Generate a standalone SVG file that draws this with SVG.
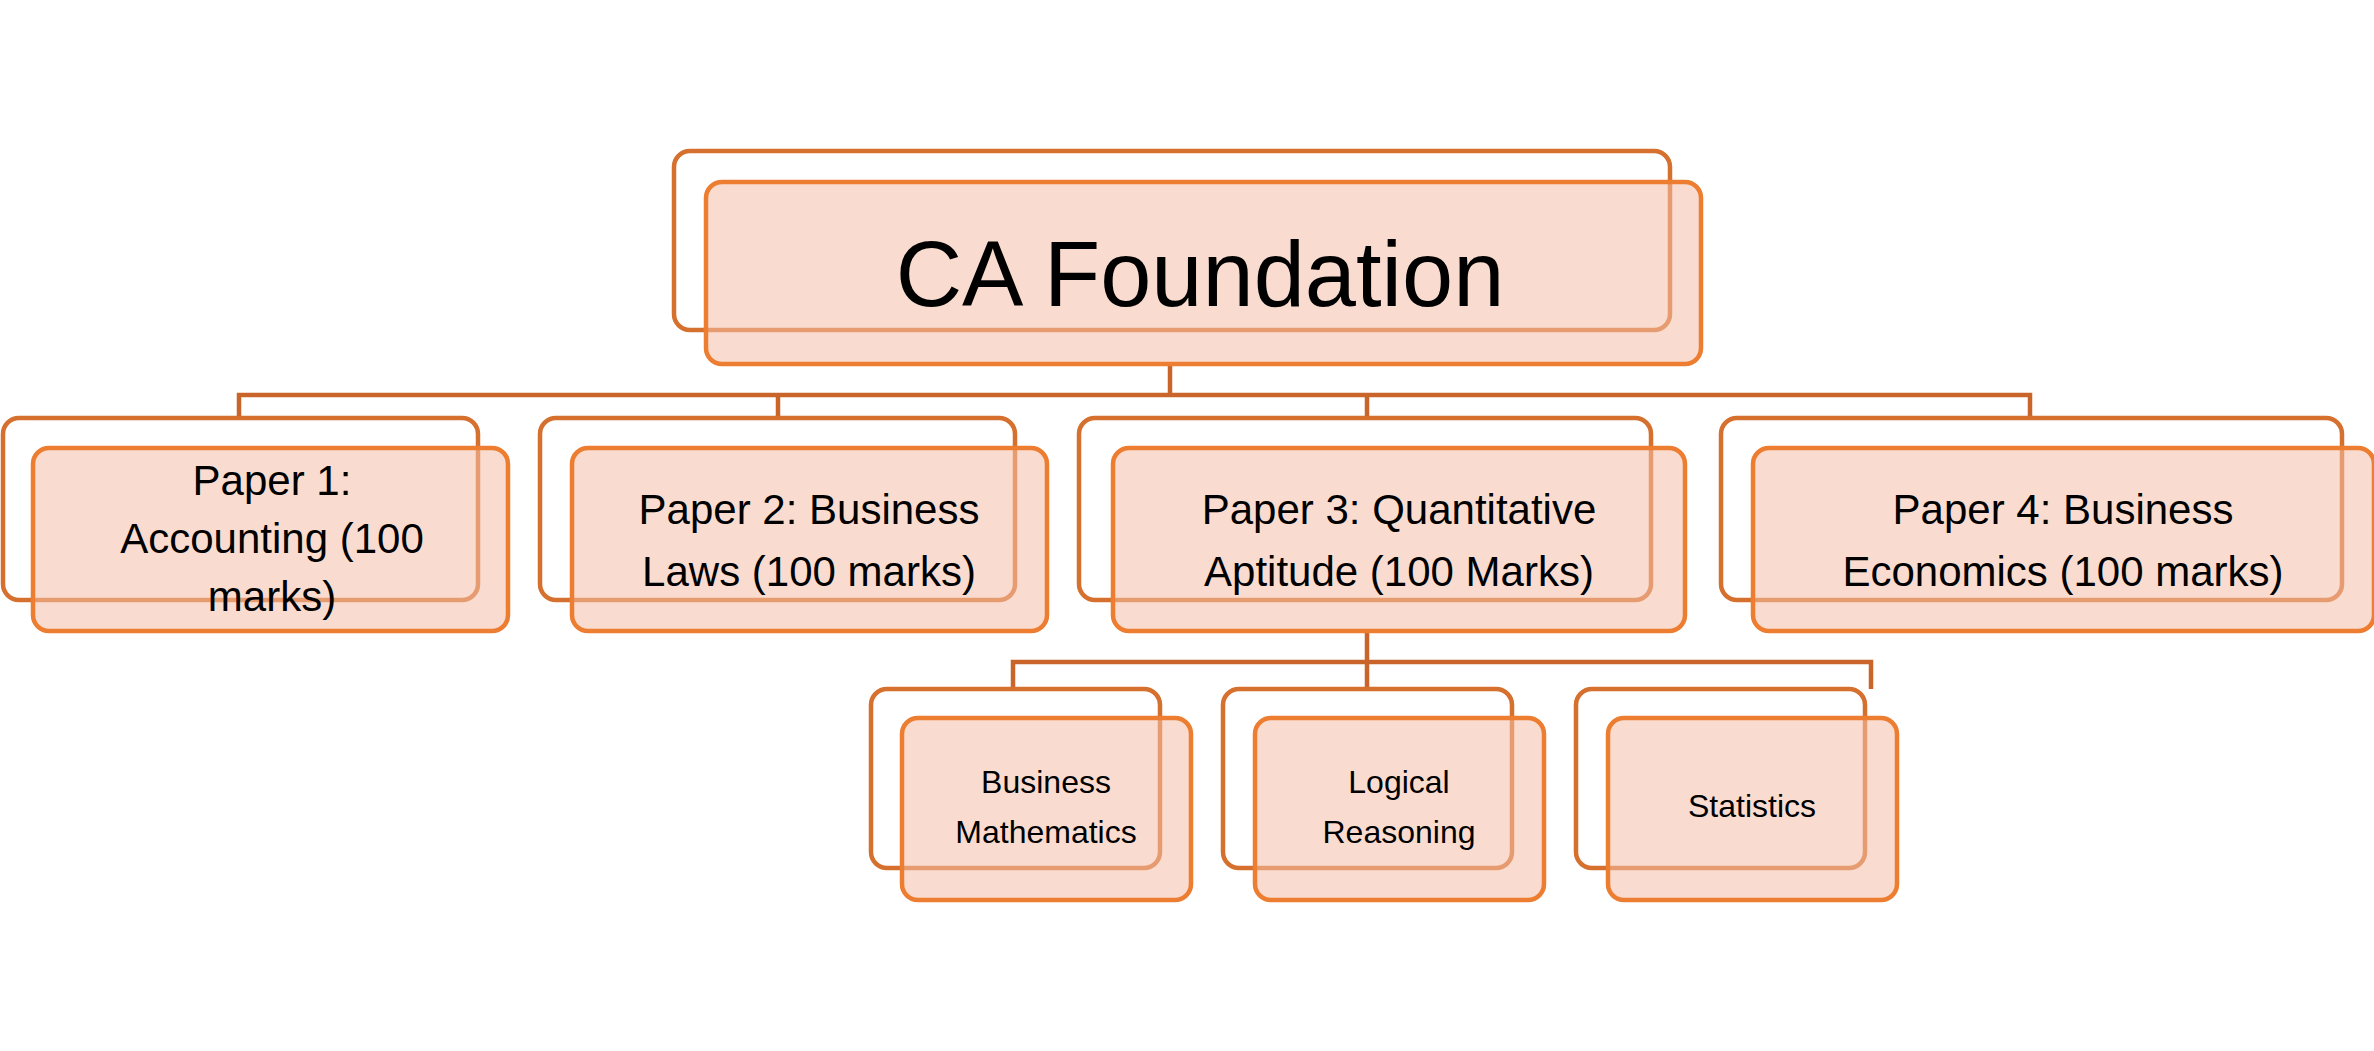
<svg xmlns="http://www.w3.org/2000/svg" width="2374" height="1051" viewBox="0 0 2374 1051">
<style>
.back{fill:#fff;stroke:#D6702E;stroke-width:4.5}
.front{fill:#F4C0A8;fill-opacity:0.55;stroke:#ED7D31;stroke-width:4.5}
.c{fill:none;stroke:#C9652B;stroke-width:4.5}
text{font-family:"Liberation Sans",Arial,sans-serif;fill:#000;text-anchor:middle}
.l1{font-size:42px}
.l2{font-size:32px}
</style>
<rect width="2374" height="1051" fill="#fff"/>
<g id="connectors">
<path class="c" d="M1170 363V395M239 418V395H2030V418M778 395V418M1367 395V418"/>
<path class="c" d="M1367 631V689M1013 689V662H1871V689"/>
</g>
<g id="ca">
<rect class="back" x="674" y="151" width="996" height="179" rx="16"/>
<rect class="front" x="706" y="182" width="995" height="182" rx="16"/>
<text x="1200" y="306" style="font-size:92px">CA Foundation</text>
</g>
<g id="p1">
<rect class="back" x="3" y="418" width="475" height="182" rx="16"/>
<rect class="front" x="33" y="448" width="475" height="183" rx="16"/>
<text class="l1"><tspan x="272" y="495">Paper 1:</tspan><tspan x="272" y="553">Accounting (100</tspan><tspan x="272" y="611">marks)</tspan></text>
</g>
<g id="p2">
<rect class="back" x="540" y="418" width="475" height="182" rx="16"/>
<rect class="front" x="572" y="448" width="475" height="183" rx="16"/>
<text class="l1"><tspan x="809" y="524">Paper 2: Business</tspan><tspan x="809" y="586">Laws (100 marks)</tspan></text>
</g>
<g id="p3">
<rect class="back" x="1079" y="418" width="572" height="182" rx="16"/>
<rect class="front" x="1113" y="448" width="572" height="183" rx="16"/>
<text class="l1"><tspan x="1399" y="524">Paper 3: Quantitative</tspan><tspan x="1399" y="586">Aptitude (100 Marks)</tspan></text>
</g>
<g id="p4">
<rect class="back" x="1721" y="418" width="621" height="182" rx="16"/>
<rect class="front" x="1753" y="448" width="621" height="183" rx="16"/>
<text class="l1"><tspan x="2063" y="524">Paper 4: Business</tspan><tspan x="2063" y="586">Economics (100 marks)</tspan></text>
</g>
<g id="bm">
<rect class="back" x="871" y="689" width="289" height="179" rx="16"/>
<rect class="front" x="902" y="718" width="289" height="182" rx="16"/>
<text class="l2"><tspan x="1046" y="793">Business</tspan><tspan x="1046" y="843">Mathematics</tspan></text>
</g>
<g id="lr">
<rect class="back" x="1223" y="689" width="289" height="179" rx="16"/>
<rect class="front" x="1255" y="718" width="289" height="182" rx="16"/>
<text class="l2"><tspan x="1399" y="793">Logical</tspan><tspan x="1399" y="843">Reasoning</tspan></text>
</g>
<g id="st">
<rect class="back" x="1576" y="689" width="289" height="179" rx="16"/>
<rect class="front" x="1608" y="718" width="289" height="182" rx="16"/>
<text class="l2" x="1752" y="817">Statistics</text>
</g>
</svg>
